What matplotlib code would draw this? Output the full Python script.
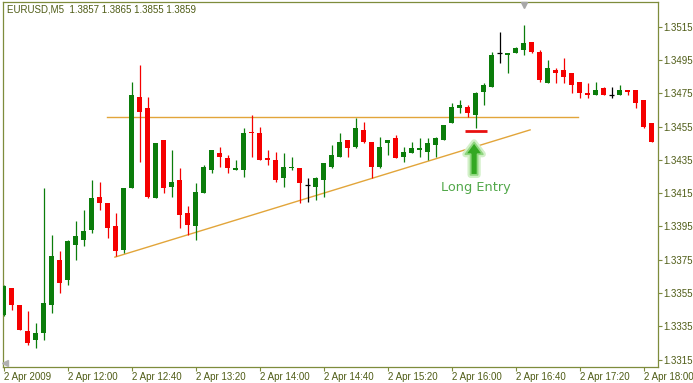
import matplotlib
matplotlib.use('Agg')
import matplotlib.pyplot as plt
import matplotlib.patheffects as pe

# EURUSD M5 bars, 2 Apr 2009 11:20 .. 18:05
opens = [1.3342, 1.3358, 1.3348, 1.3332, 1.3327, 1.3331, 1.3348, 1.3375, 1.3363, 1.3384,
         1.3387, 1.3393, 1.3413, 1.3409, 1.3395, 1.3381, 1.3418, 1.3473, 1.3466, 1.3412,
         1.3447, 1.3419, 1.3423, 1.3403, 1.3395, 1.3415, 1.3429, 1.3439, 1.3436, 1.3429,
         1.3429, 1.3452, 1.3451, 1.3436, 1.3435, 1.3424, 1.3430, 1.3430, 1.3420, 1.3419,
         1.3423, 1.3431, 1.3437, 1.3447, 1.3443, 1.3453, 1.3446, 1.3431, 1.3445, 1.3448,
         1.3437, 1.3439, 1.3441, 1.3440, 1.3444, 1.3447, 1.3457, 1.3466, 1.3467, 1.3462,
         1.3476, 1.3479, 1.3499, 1.3498, 1.3499, 1.3501, 1.3506, 1.3500, 1.3481, 1.3489,
         1.3489, 1.3487, 1.3482, 1.3475, 1.3474, 1.3478, 1.3474, 1.3474, 1.3477, 1.3477,
         1.3471, 1.3457]
highs = [1.3360, 1.3358, 1.3348, 1.3344, 1.3337, 1.3418, 1.3390, 1.3380, 1.3387, 1.3398,
         1.3405, 1.3423, 1.3422, 1.3409, 1.3403, 1.3418, 1.3482, 1.3492, 1.3473, 1.3445,
         1.3447, 1.3441, 1.3430, 1.3407, 1.3421, 1.3432, 1.3441, 1.3443, 1.3438, 1.3435,
         1.3454, 1.3462, 1.3455, 1.3441, 1.3440, 1.3439, 1.3437, 1.3430, 1.3424, 1.3425,
         1.3433, 1.3444, 1.3451, 1.3447, 1.3460, 1.3458, 1.3446, 1.3449, 1.3447, 1.3450,
         1.3443, 1.3446, 1.3448, 1.3448, 1.3449, 1.3456, 1.3469, 1.3471, 1.3468, 1.3476,
         1.3481, 1.3500, 1.3512, 1.3499, 1.3503, 1.3516, 1.3506, 1.3501, 1.3495, 1.3490,
         1.3496, 1.3487, 1.3482, 1.3481, 1.3482, 1.3479, 1.3479, 1.3480, 1.3477, 1.3477,
         1.3471, 1.3457]
lows = [1.3341, 1.3345, 1.3333, 1.3324, 1.3322, 1.3327, 1.3343, 1.3355, 1.3360, 1.3375,
        1.3383, 1.3391, 1.3405, 1.3388, 1.3377, 1.3379, 1.3418, 1.3434, 1.3412, 1.3412,
        1.3415, 1.3413, 1.3394, 1.3390, 1.3387, 1.3415, 1.3427, 1.3431, 1.3427, 1.3429,
        1.3425, 1.3437, 1.3435, 1.3432, 1.3422, 1.3419, 1.3429, 1.3409, 1.3410, 1.3411,
        1.3413, 1.3430, 1.3437, 1.3437, 1.3442, 1.3445, 1.3424, 1.3430, 1.3438, 1.3436,
        1.3434, 1.3439, 1.3437, 1.3435, 1.3437, 1.3447, 1.3457, 1.3463, 1.3461, 1.3454,
        1.3468, 1.3479, 1.3493, 1.3487, 1.3499, 1.3498, 1.3499, 1.3482, 1.3481, 1.3481,
        1.3481, 1.3475, 1.3472, 1.3472, 1.3474, 1.3474, 1.3472, 1.3474, 1.3474, 1.3466,
        1.3454, 1.3446]
closes = [1.3359, 1.3348, 1.3333, 1.3325, 1.3331, 1.3349, 1.3377, 1.3361, 1.3386, 1.3389,
          1.3392, 1.3412, 1.3409, 1.3394, 1.3380, 1.3418, 1.3474, 1.3464, 1.3413, 1.3445,
          1.3418, 1.3422, 1.3402, 1.3396, 1.3416, 1.3431, 1.3441, 1.3437, 1.3430, 1.3430,
          1.3451, 1.3451, 1.3435, 1.3435, 1.3423, 1.3431, 1.3431, 1.3421, 1.3420, 1.3424,
          1.3433, 1.3438, 1.3446, 1.3442, 1.3454, 1.3446, 1.3431, 1.3443, 1.3447, 1.3436,
          1.3440, 1.3442, 1.3442, 1.3445, 1.3448, 1.3456, 1.3467, 1.3468, 1.3463, 1.3475,
          1.3480, 1.3498, 1.3499, 1.3499, 1.3502, 1.3505, 1.3500, 1.3483, 1.3490, 1.3487,
          1.3485, 1.3480, 1.3475, 1.3474, 1.3477, 1.3474, 1.3474, 1.3477, 1.3476, 1.3469,
          1.3455, 1.3446]

time_ticks = [0, 8, 16, 24, 32, 40, 48, 56, 64, 72, 80]
time_labels = ['2 Apr 2009', '2 Apr 12:00', '2 Apr 12:40', '2 Apr 13:20', '2 Apr 14:00',
               '2 Apr 14:40', '2 Apr 15:20', '2 Apr 16:00', '2 Apr 16:40', '2 Apr 17:20',
               '2 Apr 18:00']
price_ticks = [1.3315, 1.3335, 1.3355, 1.3375, 1.3395, 1.3415, 1.3435, 1.3455, 1.3475, 1.3495, 1.3515]

# drawn objects
resist_x = [12.9, 71.8]
resist_y = [1.3461, 1.3461]
trend_x = [13.9, 65.8]
trend_y = [1.33766, 1.3453]
entry_x = [57.6, 60.4]
entry_price = 1.34525
arrow_x = 58.8
arrow_tip = 1.34455
arrow_base = 1.3426
title = 'EURUSD,M5  1.3857 1.3865 1.3855 1.3859'

GREEN = '#0b7d0b'
RED = '#f50000'
FRAME = '#7e8c3c'
TXT = '#4f5c16'
FONT = 'Liberation Sans'

fig = plt.figure(figsize=(6.93, 3.83), dpi=100)
ax = fig.add_axes([2.7 / 693, 16.3 / 383, 655 / 693, 364.7 / 383])

n = len(opens)
for i in range(n):
    o, h, l, c = opens[i], highs[i], lows[i], closes[i]
    if c > o:
        col = GREEN
    elif c < o:
        col = RED
    else:
        col = 'black'
    ax.vlines(i, l, h, color=col, linewidth=0.9, zorder=3)
    if c == o:
        ax.hlines(o, i - 0.3, i + 0.3, color=col, linewidth=0.9, zorder=3)
    else:
        ax.bar(i, abs(c - o), bottom=min(o, c), width=0.625, color=col,
               edgecolor='none', zorder=4)

ax.plot(resist_x, resist_y, color='#e2a53a', linewidth=1.0, zorder=2)
ax.plot(trend_x, trend_y, color='#e2a53a', linewidth=1.0, zorder=2)
ax.hlines(entry_price, entry_x[0], entry_x[1], color='#e81010', linewidth=2.0, zorder=5)

ax.annotate('', xy=(arrow_x, arrow_tip), xytext=(arrow_x, arrow_base),
            arrowprops=dict(arrowstyle='simple,head_length=0.85,head_width=1.25,tail_width=0.5',
                            mutation_scale=10, shrinkA=0, shrinkB=0,
                            fc='#33a822', ec='#8fd67f', lw=1.3,
                            path_effects=[pe.withStroke(linewidth=4.5, foreground='#d2f0c8')]),
            zorder=6)
ax.text(arrow_x + 0.25, 1.34182, 'Long Entry', color='#52a84a', fontsize=9.3,
        fontfamily='DejaVu Sans', ha='center', va='center', zorder=6)

# chart shift marker at top
ax.plot([0.796], [0.992], marker='v', color='#a8a8a8', markersize=5,
        transform=ax.transAxes, clip_on=False, zorder=7)
# corner marker bottom-left
ax.plot([0.004], [0.01], marker='<', color='#b0b0b0', markersize=4,
        transform=ax.transAxes, clip_on=False, zorder=7)

ax.set_xlim(-0.125, 81.75)
ax.set_ylim(1.33108, 1.35298)

ax.yaxis.tick_right()
ax.set_yticks(price_ticks)
ax.set_yticklabels([f'{p:.4f}' for p in price_ticks])
ax.set_xticks(time_ticks)
ax.set_xticklabels(time_labels, ha='left')
ax.tick_params(axis='both', colors=FRAME, labelcolor=TXT, labelsize=7, length=3, width=0.8)
ax.tick_params(axis='x', pad=1)
ax.tick_params(axis='y', pad=1)
for lab in ax.get_xticklabels() + ax.get_yticklabels():
    lab.set_fontfamily(FONT)
for sp in ax.spines.values():
    sp.set_color(FRAME)
    sp.set_linewidth(0.9)

ax.text(0.006, 0.992, title, transform=ax.transAxes, fontsize=7, color=TXT,
        fontfamily=FONT, ha='left', va='top')

fig.savefig('out.png', dpi=100)
